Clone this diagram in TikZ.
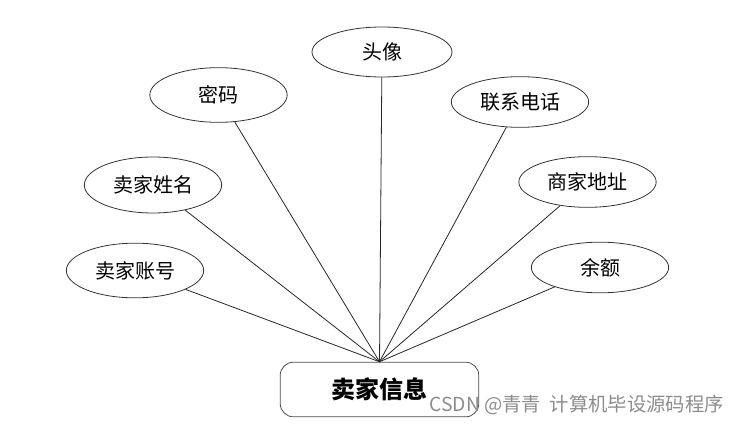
\documentclass[tikz,border=0pt]{standalone}
\usepackage{fontspec}
\newfontfamily\cjk{Noto Sans CJK SC}
\usetikzlibrary{shapes.geometric}

\begin{document}
\begin{tikzpicture}[x=0.75pt, y=-0.75pt, line width=0.6pt,
  attr/.style={ellipse, draw=black!80, minimum width=103pt, minimum height=40pt,
    inner sep=0pt, font=\cjk\fontsize{15pt}{15pt}\selectfont},
  entity/.style={rectangle, rounded corners=10pt, draw=black!70, minimum width=149pt,
    minimum height=41pt, inner sep=0pt, font=\cjk\fontsize{18pt}{18pt}\selectfont\bfseries},
  link/.style={draw=black!85}]
  \useasboundingbox (0,0) rectangle (748,424);
  % entity
  \node[entity] (seller) at (379.5,389.5) {卖家信息};
  % attributes
  \node[attr, minimum width=105pt, minimum height=37.5pt] (avatar) at (382,52) {头像};
  \node[attr, minimum height=41pt] (pwd) at (218.5,95) {密码};
  \node[attr, minimum height=38pt] (phone) at (520,102) {联系电话};
  \node[attr, minimum height=42pt] (name) at (153,185) {卖家姓名};
  \node[attr, minimum height=38pt] (addr) at (587.5,182) {商家地址};
  \node[attr, minimum height=41pt] (account) at (135,270.5) {卖家账号};
  \node[attr, minimum height=38pt] (balance) at (600,267.5) {余额};
  % links
  \foreach \a in {avatar, pwd, phone, name, addr, account, balance}
    \draw[link] (seller.north) -- (\a);
  % watermark
  \node[anchor=west, inner sep=0pt, text=black!45, font=\cjk\fontsize{14.5pt}{14.5pt}\selectfont]
    (mark) at (429,405) {CSDN @青青\ \ 计算机毕设源码程序};
\end{tikzpicture}
\end{document}
